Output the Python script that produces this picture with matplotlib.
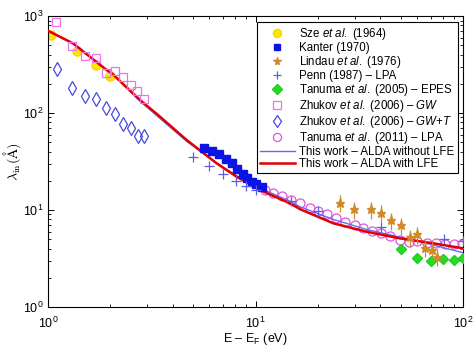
import matplotlib
matplotlib.use("Agg")
import matplotlib.pyplot as plt
import numpy as np

# font setup: Helvetica-like text, serif only for the y label
plt.rcParams['font.family'] = ['Liberation Sans', 'DejaVu Sans']
plt.rcParams['mathtext.fontset'] = 'custom'
plt.rcParams['mathtext.rm'] = 'Liberation Sans'
plt.rcParams['mathtext.it'] = 'Liberation Sans:italic'
plt.rcParams['mathtext.bf'] = 'Liberation Sans:bold'

# ---- data ----
sze_E = [1.03, 1.375, 1.70, 2.0]
sze_lam = [637, 439, 313, 242]

kanter_E = [5.65, 6.15, 6.67, 7.18, 7.68, 8.17, 8.68, 9.13, 9.66, 10.1, 10.7]
kanter_lam = [43.3, 40.9, 37.8, 33.6, 30.3, 26.3, 23.3, 21.2, 19.6, 18.4, 17.1]

lindau_E = [25.5, 29.9, 36.1, 40.4, 45.1, 50.4, 55.4, 60.0, 65.4, 70.6, 75.2]
lindau_lam = [11.9, 10.2, 10.2, 9.31, 7.83, 6.95, 5.23, 5.63, 4.08, 3.90, 3.28]
lindau_relerr = 0.2

penn_E = [4.98, 5.99, 7.0, 8.03, 9.0, 10.0, 14.9, 20.1, 40.1, 81.0, 100.0]
penn_lam = [35.5, 28.4, 23.3, 20.0, 17.7, 16.1, 12.5, 9.84, 6.73, 4.99, 4.79]

tanuma05_E = [50.3, 60.2, 70.3, 80.4, 90.2, 100.0]
tanuma05_lam = [3.96, 3.24, 2.98, 3.10, 3.05, 3.18]

zhukov_gw_E = [1.09, 1.30, 1.50, 1.70, 1.90, 2.10, 2.31, 2.50, 2.69, 2.91]
zhukov_gw_lam = [861, 490, 387, 372, 260, 271, 237, 194, 169, 140]

zhukov_gwt_E = [1.10, 1.30, 1.50, 1.70, 1.91, 2.11, 2.31, 2.50, 2.71, 2.91]
zhukov_gwt_lam = [282, 180, 150, 139, 112, 97.7, 76.5, 70.6, 58.3, 58.0]

tanuma11_E = [11.1, 12.1, 13.4, 14.8, 16.4, 18.3, 20.0, 22.1, 24.4, 27.0, 30.2, 33.0,
              36.4, 40.3, 44.5, 49.7, 54.9, 60.0, 67.1, 74.1, 81.9, 90.5, 98.9]
tanuma11_lam = [16.1, 14.9, 13.8, 12.7, 11.7, 10.6, 9.88, 9.09, 8.37, 7.61, 7.0, 6.48,
                6.12, 5.75, 5.40, 4.91, 4.71, 4.79, 4.54, 4.54, 4.43, 4.43, 4.43]

nolfe_E = [1.0, 1.32, 1.92, 2.03, 2.78, 3.40, 4.66, 6.5, 8.12, 10.5, 14.7, 16.4, 23.7, 34.4, 49.7, 60.0, 71.9, 100.0]
nolfe_lam = [700, 520, 275, 255, 132, 91, 51, 30.5, 22.5, 16.8, 12.3, 10.8, 8.0, 6.3, 5.25, 4.8, 4.36, 3.63]

lfe_E = [1.0, 1.32, 1.92, 2.03, 2.78, 3.40, 4.66, 6.5, 8.12, 10.5, 14.7, 16.4, 23.7, 34.4, 49.7, 71.9, 100.0]
lfe_lam = [705, 523, 277, 257, 136, 95, 52.7, 30.3, 22.0, 16.1, 11.7, 10.2, 7.3, 5.97, 5.1, 4.54, 4.03]

labels = [r'Sze $\mathit{et\ al.}$ (1964)',
          'Kanter (1970)',
          r'Lindau $\mathit{et\ al.}$ (1976)',
          'Penn (1987) – LPA',
          r'Tanuma $\mathit{et\ al.}$ (2005) – EPES',
          r'Zhukov $\mathit{et\ al.}$ (2006) – $\mathit{GW}$',
          r'Zhukov $\mathit{et\ al.}$ (2006) – $\mathit{GW}$+$\mathit{T}$',
          r'Tanuma $\mathit{et\ al.}$ (2011) – LPA',
          'This work – ALDA without LFE',
          'This work – ALDA with LFE']


fig = plt.figure(figsize=(4.74, 3.57), dpi=100)
ax = fig.add_axes([0.1013, 0.140, 0.8755, 0.815])

h_sze, = ax.plot(sze_E, sze_lam, 'o', color='#ffe800', mec='#f0d800', ms=6.5, ls='none', zorder=2)
h_kanter, = ax.plot(kanter_E, kanter_lam, 's', color='#0a14e6', ms=5.2, ls='none', zorder=4)
lam = np.array(lindau_lam)
h_lindau = ax.errorbar(lindau_E, lindau_lam, yerr=lindau_relerr * lam, fmt='*', color='#d08a2a',
                       ecolor='#d08a2a', elinewidth=0.9, capsize=0, ms=6.5, zorder=4)
h_penn, = ax.plot(penn_E, penn_lam, '+', color='#5c5ce8', ms=7, mew=0.9, ls='none', zorder=4)
h_t05, = ax.plot(tanuma05_E, tanuma05_lam, 'D', color='#22dd22', mec='#22cc22', ms=5.5, ls='none', zorder=4)
h_gw, = ax.plot(zhukov_gw_E, zhukov_gw_lam, 's', mfc='none', mec='#ee70ee', ms=6, mew=0.9, ls='none', zorder=4)
h_gwt, = ax.plot(zhukov_gwt_E, zhukov_gwt_lam, 'd', mfc='none', mec='#4848dd', ms=7, mew=0.9, ls='none', zorder=4)
h_t11, = ax.plot(tanuma11_E, tanuma11_lam, 'o', mfc='none', mec='#dd55dd', ms=6.5, mew=0.9, ls='none', zorder=3)
h_nolfe, = ax.plot(nolfe_E, nolfe_lam, '-', color='#6a6aee', lw=1.0, zorder=3)
h_lfe, = ax.plot(lfe_E, lfe_lam, '-', color='#e00000', lw=1.8, zorder=3)

ax.set_xscale('log')
ax.set_yscale('log')
ax.set_xlim(1, 100)
ax.set_ylim(1, 1000)

ax.tick_params(which='both', direction='in', top=True, right=True, labelsize=9)
ax.tick_params(which='major', length=4, width=0.7)
ax.tick_params(which='minor', length=2.2, width=0.6)
ax.tick_params(axis='x', pad=6)
for s in ax.spines.values():
    s.set_linewidth(0.8)

ax.set_xlabel(r'E – E$_{\rm F}$ (eV)', fontsize=9, labelpad=0)
ax.set_ylabel(r'$\lambda_{\rm in}(\rm\AA)$', fontsize=10, math_fontfamily='cm')
ax.yaxis.set_label_coords(-0.060, 0.5)

handles = [h_sze, h_kanter, h_lindau[0], h_penn, h_t05, h_gw, h_gwt, h_t11, h_nolfe, h_lfe]
leg = ax.legend(handles, labels, loc='upper right', bbox_to_anchor=(0.988, 0.979), borderaxespad=0,
                fontsize=8.3, fancybox=False, edgecolor='black', framealpha=1, handlelength=3.0,
                handletextpad=0.4, labelspacing=0.0, borderpad=0.3, markerscale=0.9)
leg.get_frame().set_linewidth(0.8)

fig.savefig('out.png', dpi=100)
